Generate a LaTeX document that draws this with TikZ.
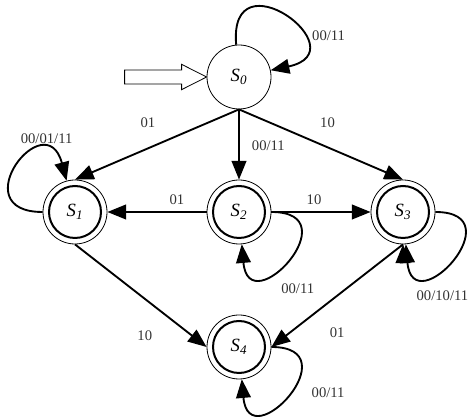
\documentclass[tikz,border=0pt]{standalone}
\usepackage{fontspec}
\setmainfont{Liberation Serif}
\usetikzlibrary{automata, positioning, arrows.meta}
\tikzset{->, >={Triangle[length=14pt,width=11pt]}, node distance=123pt,
  every state/.style={draw, line width=.6pt, minimum size=48pt, inner sep=0pt, font=\fontsize{14}{16}\selectfont\itshape},
  lbl/.style={font=\fontsize{11}{13}\selectfont, text=black!80, inner sep=1pt}}

\begin{document}
\begin{tikzpicture}
    \useasboundingbox (0,0) rectangle (355.5pt,315pt);
    \node[state] (s0) at (179.25pt,257.25pt) {S\textsubscript{0}};
    \node[state, node distance=101.25pt, below of=s0] (s2) {S\textsubscript{2}};
    \node[state, left of=s2] (s1) {S\textsubscript{1}};
    \node[state, right of=s2] (s3) {S\textsubscript{3}};
    \node[state, node distance=101.25pt, below of=s2] (s4) {S\textsubscript{4}};
    \foreach \s in {s1,s2,s3,s4}
        \draw[-, line width=1.5pt] (\s) circle (19.5pt);
    % start arrow
    \draw[-, line width=.6pt] (s0.west) -- ++(-18.75pt,9.5pt) -- ++(0,-4.25pt) -- ++(-42.75pt,0)
        -- ++(0,-10.5pt) -- ++(42.75pt,0) -- ++(0,-4.25pt) -- cycle;
    \draw[line width=1.4pt]
        (s0) edge[out=95, in=12, looseness=5.5] node[lbl, pos=.6, right=11pt, yshift=-7pt] {00/11} (s0)
        (s0.south) edge node[lbl, pos=.555, above=14pt] {01} (s1.north)
        (s0.south) edge node[lbl, pos=.52, right=8pt] {00/11} (s2.north)
        (s0.south) edge node[lbl, pos=.54, above=13pt] {10} (s3.north)
        (s1) edge[out=180, in=105, looseness=5.25] node[lbl, pos=.75, above=5pt, xshift=3pt] {00/01/11} (s1)
        (s2.west) edge node[lbl, pos=.3, above=4pt] {01} (s1.east)
        (s2.east) edge node[lbl, pos=.43, above=4pt] {10} (s3.west)
        (s2) edge[out=0, in=-85, looseness=4.7] node[lbl, pos=.4, below=26pt] {00/11} (s2)
        (s3) edge[out=0, in=-85, looseness=4.7] node[lbl, pos=.6, below=16pt] {00/10/11} (s3)
        (s1.south) edge node[lbl, pos=.53, below=22pt] {10} (s4.west)
        (s3.south) edge node[lbl, pos=.5, below=22pt] {01} (s4.east)
        (s4) edge[out=0, in=-85, looseness=4.7] node[lbl, pos=.5, right=15pt] {00/11} (s4);
\end{tikzpicture}
\end{document}
